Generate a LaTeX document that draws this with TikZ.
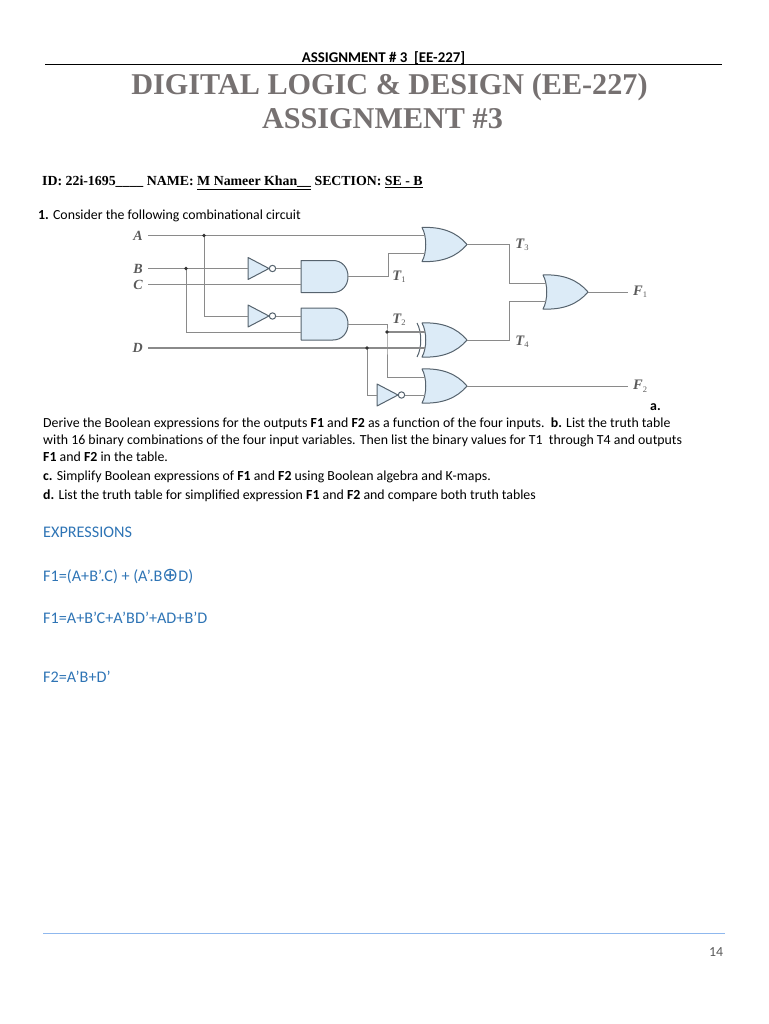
\documentclass[tikz,border=0pt]{standalone}
\usepackage{fontspec}
\setmainfont{Carlito}
\newfontfamily\timesf{Liberation Serif}
\newfontfamily\symf{DejaVu Sans}
\usetikzlibrary{calc,positioning}
\definecolor{wiregray}{HTML}{8A8A8A}
\definecolor{gateedge}{HTML}{56636E}
\definecolor{gatefill}{HTML}{DCEBF7}
\definecolor{titlegray}{HTML}{767171}
\definecolor{exprblue}{HTML}{2E74B5}
\definecolor{footblue}{HTML}{8FB8EE}
\definecolor{labgray}{HTML}{5A5A5A}
\newcommand{\sublab}[2]{{\timesf\itshape\bfseries #1}\raisebox{-2.5pt}{\fontsize{8.5}{9}\selectfont\timesf #2}}
\tikzset{
	gate/.style={draw=gateedge,fill=gatefill,line width=1pt,line join=round},
	wire/.style={draw=wiregray,line width=0.9pt},
	heavywire/.style={draw=wiregray,line width=1.2pt},
	dot/.style={fill=black!80!white},
	inlab/.style={anchor=east,text=labgray,inner xsep=5pt,font=\timesf\itshape\bfseries\fontsize{14}{15}\selectfont},
	wirelab/.style={text=labgray,inner sep=0pt,font=\fontsize{14.5}{15}\selectfont},
	outlab/.style={anchor=west,text=labgray,inner ysep=0pt,inner xsep=5pt,font=\fontsize{14.5}{15}\selectfont},
	textline/.style={anchor=base west,inner sep=0pt,font=\fontsize{13.85}{16}\selectfont},
	exprline/.style={textline,text=exprblue,font=\fontsize{16.2}{18}\selectfont},
	orgate/.pic={
		\draw[gate] (0,-17) .. controls (20,-18) and (35,-12) .. (45,0) .. controls (35,12) and (20,18) .. (0,17) .. controls (5,8) and (5,-8) .. (0,-17) -- cycle;
		\coordinate (-in1) at (3.4,-9);
		\coordinate (-in2) at (3.4,9);
		\coordinate (-out) at (45,0);
	},
	xorgate/.pic={
		\draw[gate] (0,-17) .. controls (20,-18) and (35,-12) .. (45,0) .. controls (35,12) and (20,18) .. (0,17) .. controls (5,8) and (5,-8) .. (0,-17) -- cycle;
		\draw[gate,fill=none] (-5,-17) .. controls (0,-8) and (0,8) .. (-5,17);
		\coordinate (-in1) at (3.4,-8);
		\coordinate (-in2) at (3.4,8);
		\coordinate (-out) at (45,0);
	},
	andgate/.pic={
		\draw[gate] (0,-16) -- (32,-16) .. controls (41,-16) and (47,-9) .. (47,0) .. controls (47,9) and (41,16) .. (32,16) -- (0,16) -- cycle;
		\coordinate (-in1) at (0,-8);
		\coordinate (-in2) at (0,8);
		\coordinate (-out) at (47,0);
	},
	notgate/.pic={
		\draw[gate] (0,-11) -- (21,0) -- (0,11) -- cycle;
		\draw[gate,fill=white] (24.5,0) circle (3.2);
		\coordinate (-in) at (0,0);
		\coordinate (-out) at (27.7,0);
	}
}
\begin{document}
\begin{tikzpicture}[x=1pt,y=-1pt]
	\useasboundingbox (0,0) rectangle (768,1024);
	% page head
	\node[inner sep=0pt,anchor=base,font=\bfseries\fontsize{14.9}{16}\selectfont] (head) at (383.5,62.5) {ASSIGNMENT \# 3\ \ [EE-227]};
	\coordinate (headl) at (45,64.5);
	\coordinate (headr) at (722,64.5);
	\draw[line width=0.9pt] (headl) -- (headr);
	\node[inner sep=0pt,anchor=base,text=titlegray,font=\timesf\bfseries\fontsize{30.2}{34}\selectfont] (title) at (389.5,95) {DIGITAL LOGIC \& DESIGN (EE-227)};
	\node[inner sep=0pt,anchor=base,text=titlegray,font=\timesf\bfseries\fontsize{30.2}{34}\selectfont] (subtitle) at (382.5,129) {ASSIGNMENT \#3};
	\node[textline,font=\timesf\bfseries\fontsize{13.85}{16}\selectfont] (idline) at (42,186) {ID: 22i-1695\_\_\_\_ NAME: \underline{M Nameer Khan\_\_} SECTION: \underline{SE - B}};
	\node[textline] (q1) at (38,220) {\textbf{1.} Consider the following combinational circuit};

	% gates
	\pic (or1) at (422,244.5) {orgate};
	\pic (or3) at (543,292) {orgate};
	\pic (xor1) at (422,340) {xorgate};
	\pic (or2) at (422,386) {orgate};
	\pic (and1) at (301,276.5) {andgate};
	\pic (and2) at (301,324) {andgate};
	\pic (inv1) at (248,268.5) {notgate};
	\pic (inv2) at (248,316) {notgate};
	\pic (inv3) at (377,395) {notgate};

	% inputs and outputs
	\node[inlab] (A) at (148,235.5) {A};
	\node[inlab] (B) at (148,268.5) {B};
	\node[inlab] (C) at (148,284.5) {C};
	\node[inlab] (D) at (148,348) {D};
	\node[outlab] (F1) at (628,292) {\sublab{F}{1}};
	\node[outlab] (F2) at (628,386) {\sublab{F}{2}};
	\node[wirelab] (T1) at (399,277) {\sublab{T}{1}};
	\node[wirelab] (T2) at (399,320) {\sublab{T}{2}};
	\node[wirelab] (T3) at (522,245) {\sublab{T}{3}};
	\node[wirelab] (T4) at (522,342) {\sublab{T}{4}};

	% junctions and bends
	\coordinate (dA) at (204,235.5);
	\coordinate (dB) at (186,268.5);
	\coordinate (dD) at (367,348);
	\coordinate (dT2) at (387,332);
	\coordinate (kT1) at (388,253.5);
	\coordinate (kT3) at (509,283);
	\coordinate (kT4) at (509,301);

	% wires
	\draw[heavywire] (A.east) -- (or1-in1);
	\draw[wire] (B.east) -- (inv1-in);
	\draw[wire] (C.east) -- (and1-in2);
	\draw[heavywire] (D.east) -- (xor1-in2);
	\draw[wire] (inv1-out) -- (and1-in1);
	\draw[wire] (inv2-out) -- (and2-in1);
	\draw[wire] (inv3-out) -- (or2-in2);
	\draw[wire] (dA) |- (inv2-in);
	\draw[wire] (dB) |- (and2-in2);
	\draw[wire] (dD) |- (inv3-in);
	\draw[wire] (and1-out) -| (kT1) -- (or1-in2);
	\draw[wire] (and2-out) -| (dT2) |- (or2-in1);
	\draw[heavywire] (dT2) -- (xor1-in1);
	\draw[wire] (or1-out) -| (kT3) -- (or3-in1);
	\draw[wire] (xor1-out) -| (kT4) -- (or3-in2);
	\draw[wire] (or3-out) -- (F1.west);
	\draw[wire] (or2-out) -- (F2.west);
	\foreach \p in {dA,dB,dD,dT2}
		\fill[dot] (\p) circle (1.8);

	% question text
	\node[textline,font=\bfseries\fontsize{13.85}{16}\selectfont] (partA) at (650,410) {a.};
	\node[textline] (l1) at (43,427) {Derive the Boolean expressions for the outputs \textbf{F1} and \textbf{F2} as a function of the four inputs.\ \ \textbf{b.} List the truth table};
	\node[textline] (l2) at (43,444) {with 16 binary combinations of the four input variables. Then list the binary values for T1\ \ through T4 and outputs};
	\node[textline] (l3) at (43,461) {\textbf{F1} and \textbf{F2} in the table.};
	\node[textline] (l4) at (43,480) {\textbf{c.} Simplify Boolean expressions of \textbf{F1} and \textbf{F2} using Boolean algebra and K-maps.};
	\node[textline] (l5) at (43,499) {\textbf{d.} List the truth table for simplified expression \textbf{F1} and \textbf{F2} and compare both truth tables};

	% answers
	\node[exprline] (e0) at (43,537) {EXPRESSIONS};
	\node[exprline] (e1) at (43,581) {F1=(A+B’.C) + (A’.B{\symf\fontsize{19}{18}\selectfont ⊕}D)};
	\node[exprline] (e2) at (43,623.5) {F1=A+B’C+A’BD’+AD+B’D};
	\node[exprline] (e3) at (43,682.5) {F2=A’B+D’};

	% page foot
	\coordinate (footl) at (43,933);
	\coordinate (footr) at (725,933);
	\draw[footblue,line width=0.9pt] (footl) -- (footr);
	\node[textline,text=black!65!white] (pageno) at (709,956.5) {14};
\end{tikzpicture}
\end{document}
